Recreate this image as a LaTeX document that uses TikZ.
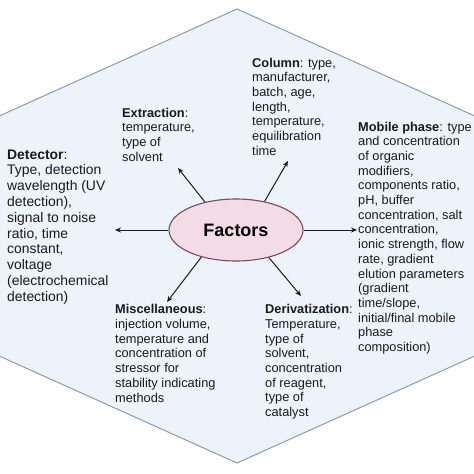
\documentclass[tikz,border=0pt]{standalone}
\usepackage{fontspec}
\setmainfont{Liberation Sans}
\usetikzlibrary{arrows.meta,shapes.geometric}
\definecolor{hexfill}{HTML}{EDF3FB}
\definecolor{hexedge}{HTML}{8C9BB5}
\definecolor{elfill}{HTML}{F3DCE6}
\definecolor{eledge}{HTML}{7A4A62}
\definecolor{textc}{HTML}{1A1A1A}
\begin{document}
\begin{tikzpicture}[x=1pt,y=-1pt,
  txt/.style={anchor=base west, align=left, inner sep=0pt, text=textc,
    font=\fontsize{12.8}{14.7}\selectfont},
  bigtxt/.style={txt, font=\fontsize{13.9}{15.8}\selectfont},
  arr/.style={-{Stealth[length=6pt,width=5pt]}, line width=1pt, draw=textc}]
\useasboundingbox (0,0) rectangle (474,474);
\clip (0,0) rectangle (474,474);
\draw[fill=hexfill, draw=hexedge, line width=1pt]
  (237,9) -- (477,117) -- (477,355) -- (237,463) -- (-3,355) -- (-3,117) -- cycle;
\node[ellipse, minimum width=134pt, minimum height=62pt, inner sep=0pt,
  fill=elfill, draw=eledge, line width=1.1pt, text=black,
  font=\fontsize{18}{20}\selectfont\bfseries] (f) at (236,230) {Factors};

% anchors are at the baseline of each text's last line
\node[txt] (col) at (252,155.2) {\textbf{Column}: type,\\manufacturer,\\batch, age,\\length,\\temperature,\\equilibration\\time};
\node[txt] (ext) at (122,161.1) {\textbf{Extraction}:\\temperature,\\type of\\solvent};
\node[bigtxt] (det) at (7,301.2) {\textbf{Detector}:\\Type, detection\\wavelength (UV\\detection),\\signal to noise\\ratio, time\\constant,\\voltage\\(electrochemical\\detection)};
\node[txt] (mob) at (358,351.5) {\textbf{Mobile phase}: type\\and concentration\\of organic\\modifiers,\\components ratio,\\pH, buffer\\concentration, salt\\concentration,\\ionic strength, flow\\rate, gradient\\elution parameters\\(gradient\\time/slope,\\initial/final mobile\\phase\\composition)};
\node[txt] (mis) at (115,402) {\textbf{Miscellaneous}:\\injection volume,\\temperature and\\concentration of\\stressor for\\stability indicating\\methods};
\node[txt] (der) at (265,416.5) {\textbf{Derivatization}:\\Temperature,\\type of\\solvent,\\concentration\\of reagent,\\type of\\catalyst};

\coordinate (tdet) at (115,230);
\coordinate (text) at (178,168);
\coordinate (tcol) at (288,161);
\coordinate (tmob) at (357,230);
\coordinate (tder) at (301,296);
\coordinate (tmis) at (167,302);

\draw[arr] (f.west) -- (tdet);
\draw[arr] (f.east) -- (tmob);
\draw[arr] (f.138.8) -- (text);
\draw[arr] (f.45) -- (tcol);
\draw[arr] (f.-40.5) -- (tder);
\draw[arr] (f.218) -- (tmis);
\end{tikzpicture}
\end{document}
